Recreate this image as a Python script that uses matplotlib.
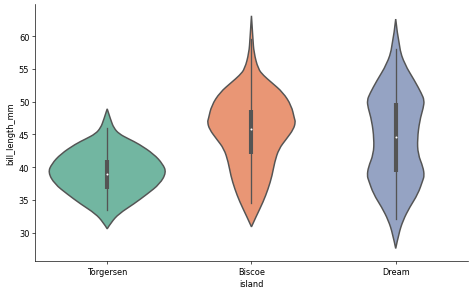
import matplotlib
matplotlib.use("Agg")
import matplotlib.pyplot as plt
from matplotlib.path import Path
from matplotlib.patches import PathPatch
import seaborn as sns

# Categorias
islands = ["Torgersen", "Biscoe", "Dream"]

# Perfiles de densidad (valor, medio ancho)
torg_y = [30.6, 31.6, 32.9, 34.4, 35.9, 37.45, 39.2, 40.5, 42.0, 43.55, 44.3, 45.1, 46.0, 47.1, 48.9]
torg_w = [0.0, 0.028, 0.081, 0.185, 0.277, 0.365, 0.41, 0.385, 0.323, 0.219, 0.15, 0.081, 0.046, 0.026, 0.0]

bisc_y = [30.9, 32.6, 34.7, 36.7, 38.7, 40.8, 42.8, 44.3, 45.8, 46.9, 47.4, 49.4, 51.4, 52.95, 54.0, 55.0, 57.5, 59.6, 63.1]
bisc_w = [0.0, 0.035, 0.081, 0.116, 0.143, 0.161, 0.19, 0.242, 0.292, 0.305, 0.298, 0.277, 0.219, 0.138, 0.083, 0.046, 0.017, 0.010, 0.0]

dream_y = [27.6, 29.85, 31.9, 33.9, 35.9, 38.0, 38.7, 40.0, 42.0, 44.3, 47.1, 49.1, 50.2, 51.2, 53.2, 55.7, 58.3, 62.6]
dream_w = [0.0, 0.021, 0.051, 0.097, 0.154, 0.188, 0.198, 0.19, 0.154, 0.15, 0.166, 0.192, 0.198, 0.18, 0.131, 0.062, 0.022, 0.0]

# Estadisticas de la caja interior
whis_lo = [33.5, 34.5, 32.1]
q1 = [36.65, 42.0, 39.2]
med = [38.9, 45.8, 44.65]
q3 = [41.1, 48.7, 49.85]
whis_hi = [46.0, 59.6, 58.0]

perfiles = [(torg_y, torg_w), (bisc_y, bisc_w), (dream_y, dream_w)]

colores = [sns.desaturate(c, 0.75) for c in sns.color_palette("Set2", 3)]
gris = "#545454"


def lado_suave(pts):
    # curva cuadratica que pasa por las puntas y usa los puntos intermedios como control
    verts = [pts[0]]
    codes = [Path.MOVETO]
    n = len(pts) - 1
    for k in range(1, n - 1):
        mx = (pts[k][0] + pts[k + 1][0]) / 2
        my = (pts[k][1] + pts[k + 1][1]) / 2
        verts += [pts[k], (mx, my)]
        codes += [Path.CURVE3, Path.CURVE3]
    verts += [pts[n - 1], pts[n]]
    codes += [Path.CURVE3, Path.CURVE3]
    return verts, codes


fig = plt.figure(figsize=(8, 4.945), dpi=59.25)
ax = fig.add_axes([0.074, 0.106, 0.913, 0.877])

for i, (ys, ws) in enumerate(perfiles):
    der = [(i + w, y) for y, w in zip(ys, ws)]
    izq = [(i - w, y) for y, w in zip(ys, ws)][::-1]
    v1, c1 = lado_suave(der)
    v2, c2 = lado_suave(izq)
    verts = v1 + v2[1:] + [(0, 0)]
    codes = c1 + c2[1:] + [Path.CLOSEPOLY]
    ax.add_patch(PathPatch(Path(verts, codes), facecolor=colores[i], edgecolor=gris, linewidth=1.8))
    ax.plot([i, i], [whis_lo[i], whis_hi[i]], color=gris, linewidth=1.6)
    ax.plot([i, i], [q1[i], q3[i]], color=gris, linewidth=5, solid_capstyle="butt")
    ax.plot([i], [med[i]], marker="o", markersize=2.5, color="white", markeredgewidth=0)

ax.set_xlim(-0.5, 2.5)
ax.set_ylim(25.7, 64.9)
ax.set_xticks(range(len(islands)))
ax.set_xticklabels(islands)
ax.set_yticks([30, 35, 40, 45, 50, 55, 60])
ax.set_xlabel("island")
ax.set_ylabel("bill_length_mm")
ax.spines["top"].set_visible(False)
ax.spines["right"].set_visible(False)

fig.savefig("out.png", dpi=59.25)
